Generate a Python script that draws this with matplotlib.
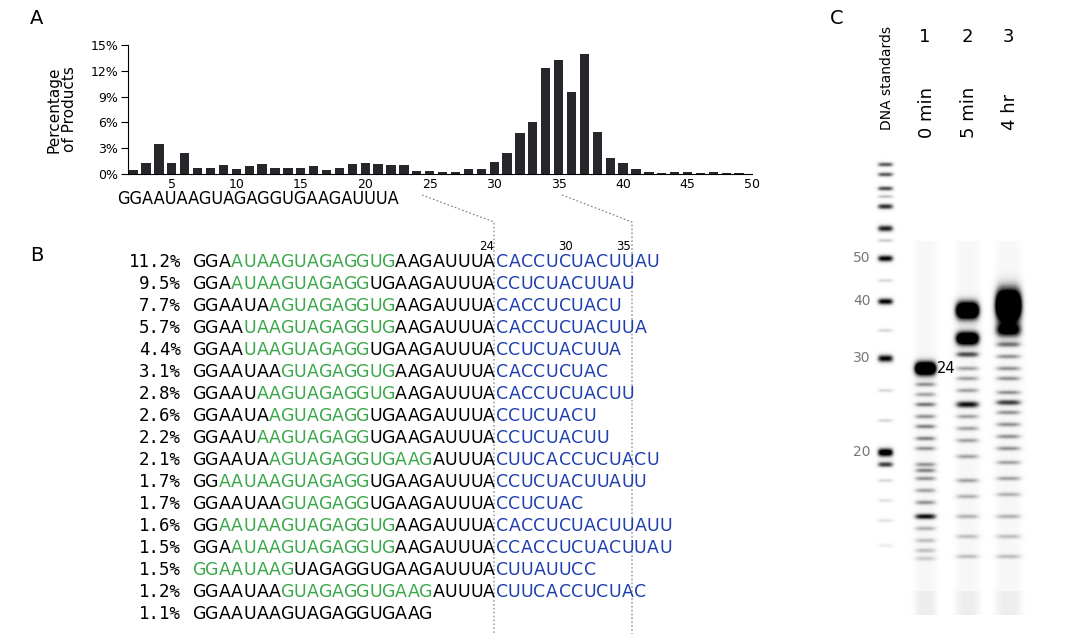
import numpy as np
import matplotlib
matplotlib.use("Agg")
import matplotlib.pyplot as plt
from matplotlib.lines import Line2D

W, H = 1080, 634

# ---- panel A data ----
positions = list(range(2, 50))
percent = [0.5, 1.3, 3.5, 1.3, 2.4, 0.75, 0.7, 1.0, 0.55, 0.9, 1.15, 0.75, 0.75, 0.7,
           0.95, 0.5, 0.75, 1.15, 1.25, 1.15, 1.0, 1.0, 0.4, 0.3, 0.25, 0.25, 0.55,
           0.55, 1.4, 2.45, 4.8, 6.0, 12.3, 13.2, 9.5, 13.9, 4.9, 1.85, 1.3, 0.55,
           0.2, 0.1, 0.25, 0.25, 0.1, 0.2, 0.15, 0.15]
yticks = [0, 3, 6, 9, 12, 15]
xticks = [5, 10, 15, 20, 25, 30, 35, 40, 45, 50]
template = "GGAAUAAGUAGAGGUGAAGAUUUA"

# ---- panel B data: (percent, sequence, green start, green end) ----
rows = [
    ("11.2%", "GGAAUAAGUAGAGGUGAAGAUUUACACCUCUACUUAU", 3, 16),
    ("9.5%", "GGAAUAAGUAGAGGUGAAGAUUUACCUCUACUUAU", 3, 14),
    ("7.7%", "GGAAUAAGUAGAGGUGAAGAUUUACACCUCUACU", 6, 16),
    ("5.7%", "GGAAUAAGUAGAGGUGAAGAUUUACACCUCUACUUA", 4, 16),
    ("4.4%", "GGAAUAAGUAGAGGUGAAGAUUUACCUCUACUUA", 4, 14),
    ("3.1%", "GGAAUAAGUAGAGGUGAAGAUUUACACCUCUAC", 7, 16),
    ("2.8%", "GGAAUAAGUAGAGGUGAAGAUUUACACCUCUACUU", 5, 16),
    ("2.6%", "GGAAUAAGUAGAGGUGAAGAUUUACCUCUACU", 6, 14),
    ("2.2%", "GGAAUAAGUAGAGGUGAAGAUUUACCUCUACUU", 5, 14),
    ("2.1%", "GGAAUAAGUAGAGGUGAAGAUUUACUUCACCUCUACU", 6, 19),
    ("1.7%", "GGAAUAAGUAGAGGUGAAGAUUUACCUCUACUUAUU", 2, 14),
    ("1.7%", "GGAAUAAGUAGAGGUGAAGAUUUACCUCUAC", 7, 14),
    ("1.6%", "GGAAUAAGUAGAGGUGAAGAUUUACACCUCUACUUAUU", 2, 16),
    ("1.5%", "GGAAUAAGUAGAGGUGAAGAUUUACCACCUCUACUUAU", 3, 16),
    ("1.5%", "GGAAUAAGUAGAGGUGAAGAUUUACUUAUUCC", 0, 8),
    ("1.2%", "GGAAUAAGUAGAGGUGAAGAUUUACUUCACCUCUAC", 7, 19),
    ("1.1%", "GGAAUAAGUAGAGGUGAAG", 0, 0),
]

# ---- panel C data: band y (pixel), strength, half-height ----
ladder = [(164, .7, 2.5), (174, .7, 2.5), (188, .75, 2.5), (206, .85, 3), (228, .9, 3.5),
          (258, 1, 3.5), (301, 1, 3.5), (358, 1, 4), (452, 1.2, 4.5), (464, .8, 3),
          (196, .35, 2), (240, .3, 2), (280, .25, 2), (330, .25, 2), (390, .25, 2),
          (420, .25, 2), (480, .25, 2), (500, .2, 2), (520, .2, 2), (545, .15, 2)]
lane1 = [(368, 1.8, 7), (384, .45, 2.5), (394, .4, 2.5), (404, .55, 2.5), (416, .45, 2.5),
         (426, .5, 2.5), (438, .5, 2.5), (448, .45, 2.5), (464, .45, 2.5), (470, .5, 2.5),
         (478, .45, 2.5), (490, .4, 2.5), (502, .45, 2.5), (516, .9, 3), (528, .35, 2.5),
         (540, .3, 2.5), (550, .3, 2.5), (558, .25, 2.5)]
lane2 = [(310, 1.8, 9), (338, 1.6, 7), (354, .7, 3), (368, .4, 2.5), (378, .4, 2.5),
         (390, .4, 2.5), (404, .9, 3.5), (416, .4, 2.5), (428, .4, 2.5), (440, .4, 2.5),
         (456, .4, 2.5), (480, .4, 2.5), (496, .35, 2.5), (516, .35, 2.5), (536, .3, 2.5),
         (556, .3, 2.5)]
lane3 = [(305, 2.2, 16), (330, 1.0, 7), (344, .55, 3), (356, .45, 2.5), (368, .45, 2.5),
         (378, .45, 2.5), (392, .45, 2.5), (402, .75, 3), (412, .45, 2.5), (424, .45, 2.5),
         (436, .45, 2.5), (448, .45, 2.5), (462, .4, 2.5), (478, .4, 2.5), (494, .35, 2.5),
         (516, .35, 2.5), (536, .3, 2.5), (556, .3, 2.5)]
lane_x = [885, 925, 967, 1008]
lane_names = ["1", "2", "3"]
lane_times = ["0 min", "5 min", "4 hr"]
size_marks = [("50", 258), ("40", 301), ("30", 358), ("20", 452)]

GREEN = "#3aa84a"
BLUE = "#1f3fae"


def fx(x):
    return x / W


def fy(y):
    return 1 - y / H


fig = plt.figure(figsize=(W / 100, H / 100), dpi=100)

# ---- panel A ----
ax = fig.add_axes([fx(128), fy(174), fx(752) - fx(128), fy(45) - fy(174)])
ax.bar(positions, percent, width=0.72, color="#26272b")
ax.set_xlim(1.6, 50)
ax.set_ylim(0, 15)
ax.set_yticks(yticks)
ax.set_yticklabels([f"{t}%" for t in yticks], fontsize=9)
ax.set_xticks(xticks)
ax.set_xticklabels([str(t) for t in xticks], fontsize=9)
ax.tick_params(axis="x", length=0, pad=3)
ax.tick_params(axis="y", length=5, pad=2)
for s in ["top", "right"]:
    ax.spines[s].set_visible(False)
ax.set_ylabel("Percentage\nof Products", fontsize=11, linespacing=1.0, labelpad=10)
fig.text(fx(117), fy(199), template, fontsize=13, va="center", ha="left",
         family="DejaVu Sans", stretch="condensed")

fig.text(fx(30), fy(18), "A", fontsize=14, va="center")
fig.text(fx(30), fy(256), "B", fontsize=14, va="center")
fig.text(fx(830), fy(18), "C", fontsize=14, va="center")

# dotted guide lines
for pts in ([(422, 195), (494, 222), (494, 634)], [(562, 195), (632, 222), (632, 634)]):
    fig.add_artist(Line2D([fx(p[0]) for p in pts], [fy(p[1]) for p in pts],
                          color="#777777", lw=0.8, ls=(0, (1.5, 2))))

# ---- panel B ----
for lab, x in [("24", 487), ("30", 566), ("35", 624)]:
    fig.text(fx(x), fy(247), lab, fontsize=8.5, ha="center", va="center")

cw = 12.6
x0 = 193
for r, (pct, seq, g0, g1) in enumerate(rows):
    y = 262 + r * 22
    fig.text(fx(181), fy(y), pct, fontsize=12.5, ha="right", va="center",
             family="DejaVu Sans Mono")
    for i, ch in enumerate(seq):
        if i >= 24:
            c = BLUE
        elif g0 <= i < g1:
            c = GREEN
        else:
            c = "black"
        fig.text(fx(x0 + (i + 0.5) * cw), fy(y), ch, fontsize=12.5, ha="center",
                 va="center", color=c, family="DejaVu Sans")

# ---- panel C: gel ----
gx0, gx1, gy0, gy1 = 858, 1040, 150, 625
xs = np.arange(gx0, gx1)
ys = np.arange(gy0, gy1)[:, None]
img = np.zeros((len(ys), len(xs)))
for lx, bands, hw in zip(lane_x, [ladder, lane1, lane2, lane3], [8, 11, 12, 13]):
    prof = np.exp(-((xs - lx) / hw) ** 4)
    for yc, s, sh in bands:
        img += s * np.exp(-((ys - yc) / sh) ** 2) * prof
    if lx != lane_x[0]:
        img += 0.06 * prof * ((ys > 240) & (ys < 615))
        img += 0.08 * prof * ((ys > 590) & (ys < 615))
img = np.clip(img, 0, 1)
gax = fig.add_axes([fx(gx0), fy(gy1), fx(gx1) - fx(gx0), fy(gy0) - fy(gy1)])
gax.imshow(img, cmap="Greys", vmin=0, vmax=1, aspect="auto", interpolation="bilinear",
           extent=[gx0, gx1, gy1, gy0])
gax.axis("off")

fig.text(fx(lane_x[0] + 2), fy(78), "DNA standards", rotation=90, fontsize=10,
         ha="center", va="center")
for lx, n, t in zip(lane_x[1:], lane_names, lane_times):
    fig.text(fx(lx), fy(37), n, fontsize=13, ha="center", va="center")
    fig.text(fx(lx + 2), fy(112), t, rotation=90, fontsize=13, ha="center", va="center")
for lab, y in size_marks:
    fig.text(fx(862), fy(y), lab, fontsize=10, color="#777777", ha="center", va="center")
fig.text(fx(946), fy(368), "24", fontsize=10.5, ha="center", va="center")

fig.savefig("out.png", dpi=100)
